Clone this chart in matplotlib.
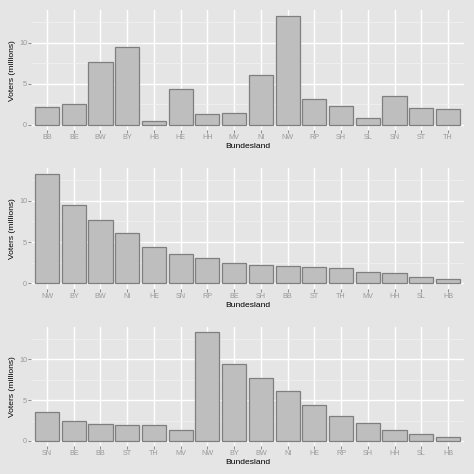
import matplotlib
matplotlib.use("Agg")
import matplotlib.pyplot as plt
from matplotlib.ticker import MultipleLocator

plt.rcParams['font.family'] = ['Liberation Sans', 'DejaVu Sans']

# Data (millions of eligible voters)
states = ["BB", "BE", "BW", "BY", "HB", "HE", "HH", "MV",
          "NI", "NW", "RP", "SH", "SL", "SN", "ST", "TH"]
voters = [2.13, 2.50, 7.69, 9.43, 0.49, 4.41, 1.28, 1.40,
          6.10, 13.26, 3.10, 2.25, 0.80, 3.50, 2.00, 1.90]
east = ["BB", "BE", "MV", "SN", "ST", "TH"]

vals = dict(zip(states, voters))
order_alpha = states
order_sorted = sorted(states, key=lambda s: -vals[s])
order_group = [s for s in order_sorted if s in east] + [s for s in order_sorted if s not in east]

BG = "#E5E5E5"
fig = plt.figure(figsize=(4.74, 4.74), dpi=100, facecolor=BG)

rects = [
    [0.0654, 0.7249, 0.9135, 0.2532],
    [0.0654, 0.3907, 0.9135, 0.2543],
    [0.0654, 0.0582, 0.9135, 0.2521],
]
orders = [order_alpha, order_sorted, order_group]

for rect, order in zip(rects, orders):
    ax = fig.add_axes(rect)
    ax.set_facecolor(BG)
    x = list(range(len(order)))
    y = [vals[s] for s in order]
    ax.bar(x, y, width=0.9, color="#BEBEBE", edgecolor="#7F7F7F",
           linewidth=0.9, zorder=3)
    ymax = max(voters)
    ax.set_ylim(-0.05 * ymax, 1.05 * ymax)
    ax.set_xlim(-0.6, len(order) - 0.4)
    ax.set_xticks(x)
    ax.set_xticklabels(order)
    ax.yaxis.set_major_locator(MultipleLocator(5))
    ax.yaxis.set_minor_locator(MultipleLocator(2.5))
    ax.grid(which="major", color="white", linewidth=1.0, zorder=0)
    ax.grid(which="minor", axis="y", color="#F2F2F2", linewidth=0.5, zorder=0)
    ax.set_axisbelow(True)
    for sp in ax.spines.values():
        sp.set_visible(False)
    ax.tick_params(which="major", length=2, width=0.6, color="#7F7F7F",
                   labelcolor="#999999", labelsize=5.2, pad=0.8)
    ax.tick_params(which="minor", length=0)
    ax.set_xlabel("Bundesland", fontsize=6.1, color="#000000", labelpad=1.5)
    ax.set_ylabel("Voters (millions)", fontsize=6.1, color="#000000", labelpad=1.8)

fig.savefig("out.png", dpi=100, facecolor=BG)
